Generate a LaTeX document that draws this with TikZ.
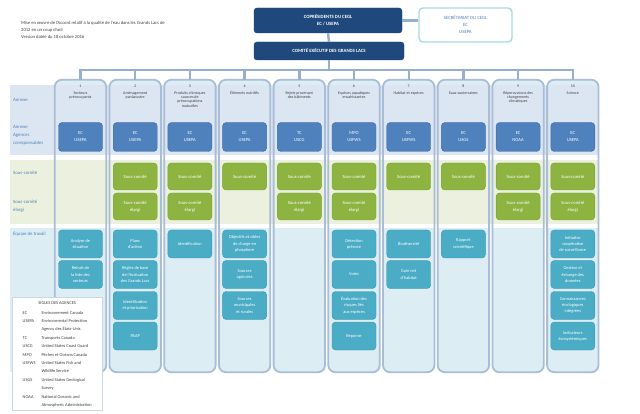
\documentclass[tikz,border=0pt]{standalone}
\usepackage{fontspec}
\setmainfont{Carlito}
\usetikzlibrary{calc}

\definecolor{navy}{HTML}{1F497D}
\definecolor{agfill}{HTML}{4F81BD}
\definecolor{agline}{HTML}{3E6DA6}
\definecolor{subfill}{HTML}{8DB441}
\definecolor{subline}{HTML}{789C38}
\definecolor{teamfill}{HTML}{4BACC6}
\definecolor{teamline}{HTML}{3C96AF}
\definecolor{bandblue}{HTML}{DCE6F2}
\definecolor{bandgreen}{HTML}{EBF1DE}
\definecolor{bandcyan}{HTML}{DCEEF4}
\definecolor{colline}{HTML}{A9BDD7}
\definecolor{linkc}{HTML}{97AFCE}
\definecolor{labc}{HTML}{4F81BD}
\definecolor{secline}{HTML}{A8D8E4}
\definecolor{txt}{HTML}{404040}

\begin{document}
\begin{tikzpicture}[x=1pt, y=-1pt,
  navybox/.style={draw=navy!85!black, fill=navy, rounded corners=3pt, text=white, align=center,
    font=\bfseries\fontsize{4.8}{7}\selectfont, inner sep=1pt},
  secbox/.style={draw=secline, line width=1.4pt, fill=white, rounded corners=4pt, text=labc, align=center,
    font=\fontsize{4.8}{7}\selectfont, minimum width=93pt, minimum height=34pt},
  colfill/.style={fill=bandcyan, rounded corners=7pt, minimum width=51pt, minimum height=292pt, inner sep=0pt},
  colline/.style={draw=colline, line width=1.8pt, rounded corners=7pt},
  colhead/.style={anchor=north, align=center, text=txt, inner sep=0pt, font=\fontsize{4}{4.4}\selectfont},
  agbox/.style={draw=agline, fill=agfill, rounded corners=3.5pt, minimum width=44pt, minimum height=29pt,
    text=white, align=center, inner sep=1pt, font=\fontsize{4.6}{7}\selectfont},
  subbox/.style={draw=subline, fill=subfill, rounded corners=3.5pt, minimum width=44pt, minimum height=27pt,
    text=white, align=center, inner sep=1pt, font=\fontsize{4.6}{7}\selectfont},
  teambox/.style={draw=teamline, fill=teamfill, rounded corners=3.5pt, minimum width=44pt, minimum height=28pt,
    text=white, align=center, inner sep=1pt, font=\fontsize{4.4}{6.2}\selectfont},
  rowlab/.style={anchor=west, align=left, text=labc, inner sep=0pt, font=\fontsize{4.8}{7.8}\selectfont},
  link/.style={draw=linkc, line width=2.4pt}]

\useasboundingbox (0,0) rectangle (640,414);

% =================================================================================
% columns and the three bands behind them
% =================================================================================
\node[colfill] (c1)  at (80.5,226)  {};
\node[colfill] (c2)  at (135.2,226) {};
\node[colfill] (c3)  at (189.9,226) {};
\node[colfill] (c4)  at (244.6,226) {};
\node[colfill] (c5)  at (299.3,226) {};
\node[colfill] (c6)  at (354.0,226) {};
\node[colfill] (c7)  at (408.7,226) {};
\node[colfill] (c8)  at (463.4,226) {};
\node[colfill] (c9)  at (518.1,226) {};
\node[colfill] (c10) at (572.8,226) {};

\fill[bandblue]  (10,85) rectangle (598,155);
\fill[white]     (10,155) rectangle (598,160);
\fill[bandgreen] (10,160) rectangle (598,224);
\fill[white]     (10,224) rectangle (598,228);
\fill[bandcyan]  (10,228) rectangle (56,372);

\foreach \i in {1,...,10}
  \draw[colline] (c\i.south west) rectangle (c\i.north east);

% =================================================================================
% top of the chart
% =================================================================================
\node[anchor=north west, align=left, text=txt, inner sep=0pt, font=\fontsize{4.6}{6.8}\selectfont] (intro) at (21,21)
  {Mise en œuvre de l'Accord relatif à la qualité de l'eau dans les Grands Lacs de\\
   2012 en un coup d'œil\\
   Version datée du 18 octobre 2016};

\node[navybox, minimum width=148pt, minimum height=25pt] (cp) at (328,20.5) {COPRÉSIDENTS DU CEGL\\EC / USEPA};
\node[secbox] (sec) at (465.5,25) {SECRÉTARIAT DU CEGL\\EC\\USEPA};
\node[navybox, minimum width=150pt, minimum height=18pt] (gle) at (329,51) {COMITÉ EXÉCUTIF DES GRANDS LACS};

\coordinate (bus) at (329,70);
\draw[link] (cp.east) -- (cp.east -| sec.west);
\draw[link] (cp.south) -- (gle.north);
\draw[link] (gle.south) -- (bus);
\foreach \i in {1,...,10}
  \draw[link] (c\i.north) |- (bus);

% =================================================================================
% row labels
% =================================================================================
\node[rowlab] (l1) at (13,100)   {Annexe};
\node[rowlab] (l2) at (13,135.5) {Annexe\\Agences\\coresponsables};
\node[rowlab] (l3) at (13,173)   {Sous-comité};
\node[rowlab] (l4) at (13,206)   {Sous-comité\\élargi};
\node[rowlab] (l5) at (13,234)   {Équipe de travail};

% =================================================================================
% annex titles
% =================================================================================
\node[colhead] (h1)  at (80.5,85)  {1\\[2pt]Secteurs\\préoccupants};
\node[colhead] (h2)  at (135.2,85) {2\\[2pt]Aménagement\\panlacustre};
\node[colhead] (h3)  at (189.9,85) {3\\[2pt]Produits chimiques\\sources de\\préoccupations\\mutuelles};
\node[colhead] (h4)  at (244.6,85) {4\\[2pt]Éléments nutritifs};
\node[colhead] (h5)  at (299.3,85) {5\\[2pt]Rejets provenant\\des bâtiments};
\node[colhead] (h6)  at (354.0,85) {6\\[2pt]Espèces aquatiques\\envahissantes};
\node[colhead] (h7)  at (408.7,85) {7\\[2pt]Habitat et espèces};
\node[colhead] (h8)  at (463.4,85) {8\\[2pt]Eaux souterraines};
\node[colhead] (h9)  at (518.1,85) {9\\[2pt]Répercussions des\\changements\\climatiques};
\node[colhead] (h10) at (572.8,85) {10\\[2pt]Science};

% lead agencies
\node[agbox] (a1)  at (80.5,137)  {EC\\USEPA};
\node[agbox] (a2)  at (135.2,137) {EC\\USEPA};
\node[agbox] (a3)  at (189.9,137) {EC\\USEPA};
\node[agbox] (a4)  at (244.6,137) {EC\\USEPA};
\node[agbox] (a5)  at (299.3,137) {TC\\USCG};
\node[agbox] (a6)  at (354.0,137) {MPO\\USFWS};
\node[agbox] (a7)  at (408.7,137) {EC\\USFWS};
\node[agbox] (a8)  at (463.4,137) {EC\\USGS};
\node[agbox] (a9)  at (518.1,137) {EC\\NOAA};
\node[agbox] (a10) at (572.8,137) {EC\\USEPA};

% =================================================================================
% subcommittees (green)
% =================================================================================
\node[subbox] (s2a)  at (135.2,176.5) {Sous-comité};
\node[subbox] (s2b)  at (135.2,206.5) {Sous-comité\\élargi};
\node[subbox] (s3a)  at (189.9,176.5) {Sous-comité};
\node[subbox] (s3b)  at (189.9,206.5) {Sous-comité\\élargi};
\node[subbox] (s4a)  at (244.6,176.5) {Sous-comité};
\node[subbox] (s5a)  at (299.3,176.5) {Sous-comité};
\node[subbox] (s5b)  at (299.3,206.5) {Sous-comité\\élargi};
\node[subbox] (s6a)  at (354.0,176.5) {Sous-comité};
\node[subbox] (s6b)  at (354.0,206.5) {Sous-comité\\élargi};
\node[subbox] (s7a)  at (408.7,176.5) {Sous-comité};
\node[subbox] (s8a)  at (463.4,176.5) {Sous-comité};
\node[subbox] (s9a)  at (518.1,176.5) {Sous-comité};
\node[subbox] (s9b)  at (518.1,206.5) {Sous-comité\\élargi};
\node[subbox] (s10a) at (572.8,176.5) {Sous-comité};
\node[subbox] (s10b) at (572.8,206.5) {Sous-comité\\élargi};

% =================================================================================
% task teams (cyan)
% =================================================================================
\node[teambox] (t1a)  at (80.5,244)    {Analyse de\\situation};
\node[teambox] (t1b)  at (80.5,274.5)  {Retrait de\\la liste des\\secteurs};

\node[teambox] (t2a)  at (135.2,244)   {Plans\\d'action};
\node[teambox] (t2b)  at (135.2,274.5) {Règles de base\\de l'évaluation\\des Grands Lacs};
\node[teambox] (t2c)  at (135.2,305.5) {Identification\\et priorisation};
\node[teambox] (t2d)  at (135.2,336)   {PAAP};

\node[teambox] (t3a)  at (189.9,244)   {Identification};

\node[teambox] (t4a)  at (244.6,244)   {Objectifs et cibles\\de charge en\\phosphore};
\node[teambox] (t4b)  at (244.6,274.5) {Sources\\agricoles};
\node[teambox] (t4c)  at (244.6,305.5) {Sources\\municipales\\et rurales};

\node[teambox] (t6a)  at (354.0,244)   {Détection\\précoce};
\node[teambox] (t6b)  at (354.0,274.5) {Voies};
\node[teambox] (t6c)  at (354.0,305.5) {Évaluation des\\risques liés\\aux espèces};
\node[teambox] (t6d)  at (354.0,336)   {Réponse};

\node[teambox] (t7a)  at (408.7,244)   {Biodiversité};
\node[teambox] (t7b)  at (408.7,274.5) {Gain net\\d'habitat};

\node[teambox] (t8a)  at (463.4,244)   {Rapport\\scientifique};

\node[teambox] (t10a) at (572.8,244)   {Initiative\\coopérative\\de surveillance};
\node[teambox] (t10b) at (572.8,274.5) {Gestion et\\échange des\\données};
\node[teambox] (t10c) at (572.8,305.5) {Connaissances\\écologiques\\intégrées};
\node[teambox] (t10d) at (572.8,336)   {Indicateurs\\écosystémiques};

% =================================================================================
% legend, on top of column 1
% =================================================================================
\node[anchor=north west, draw=colline!60, fill=white, inner xsep=3pt, inner ysep=0.5pt,
  minimum width=90pt, minimum height=113pt, text=txt, font=\fontsize{4.4}{8.4}\selectfont] (sigles) at (12,297)
  {\begin{tabular}{@{}l@{\hspace{6pt}}l@{}}
     \multicolumn{2}{c}{SIGLES DES AGENCES}\\[1.4pt]
     EC    & Environnement Canada\\
     USEPA & Environmental Protection\\
           & Agency des États-Unis\\
     TC    & Transports Canada\\
     USCG  & United States Coast Guard\\
     MPO   & Pêches et Océans Canada\\
     USFWS & United States Fish and\\
           & Wildlife Service\\
     USGS  & United States Geological\\
           & Survey\\
     NOAA  & National Oceanic and\\
           & Atmospheric Administration
   \end{tabular}};

\end{tikzpicture}
\end{document}
